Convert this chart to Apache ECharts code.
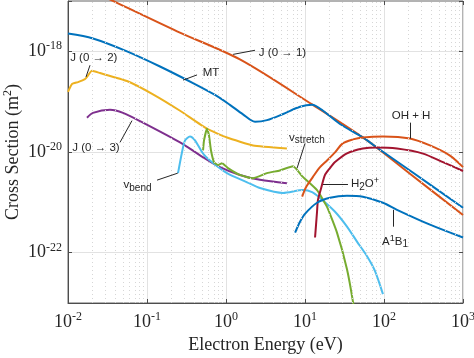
<!DOCTYPE html>
<html><head><meta charset="utf-8">
<script src="https://cdn.jsdelivr.net/npm/echarts@6/dist/echarts.min.js"></script>
<style>html,body{margin:0;padding:0;background:#fff}#c{width:474px;height:358px}</style>
</head><body><div id="c"></div>
<script>
// ---- axis ticks ----
const xDecades = [0.01, 0.1, 1, 10, 100, 1000];
const yLabelExps = [-22, -20, -18];

// ---- series data: [Electron energy (eV), cross section (m^2)] ----
const mtData = [[0.01,2.25e-18],[0.0207,1.8e-18],[0.0558,1.0e-18],[0.146,5.0e-19],[0.382,2.34e-19],[0.726,1.36e-19],[1.12,8.65e-20],[1.64,5.6e-20],[2.33,4.0e-20],[3.3,4.3e-20],[5.3,5.7e-20],[8.65,7.9e-20],[12.3,8.7e-20],[16.9,6.6e-20],[27.7,3.6e-20],[54,1.95e-20],[81,1.23e-20],[213,4.3e-21],[1000,7.8e-22]];
const j01Data = [[0.01,2.7e-17],[0.0394,9.6e-18],[0.24,2.5e-18],[1.5,6.9e-19],[12.3,8.8e-20],[61,1.7e-20],[213,3.7e-21],[1000,5.6e-22]];
const j02Data = [[0.01,1.56e-19],[0.01124,2.24e-19],[0.0134,2.45e-19],[0.0164,2.8e-19],[0.0174,3.1e-19],[0.0201,4.1e-19],[0.0254,3.7e-19],[0.0558,2.57e-19],[0.119,1.4e-19],[0.262,6.6e-20],[0.574,2.9e-20],[1.03,1.94e-20],[2.2,1.35e-20],[5.9,1.18e-20]];
const j03Data = [[0.0174,4.8e-20],[0.0207,6.0e-20],[0.034,6.9e-20],[0.0497,6.0e-20],[0.0889,3.83e-20],[0.262,1.55e-20],[0.469,8.6e-21],[0.84,5.0e-21],[1.5,3.5e-21],[2.69,2.8e-21],[5.9,2.4e-21]];
const bendData = [[0.247,3.8e-21],[0.277,9.8e-21],[0.303,1.7e-20],[0.35,2.04e-20],[0.405,1.7e-20],[0.512,9.3e-21],[0.627,6.8e-21],[1.03,3.8e-21],[1.85,2.5e-21],[2.69,1.92e-21],[5.27,1.53e-21],[9.4,1.75e-21],[12.3,1.6e-21],[15.5,1.22e-21],[24,6.5e-22],[34,3.3e-22],[45.5,1.66e-22],[61,8.5e-23],[77,4.3e-23],[97,1.5e-23]];
const stretchData = [[0.512,1.07e-20],[0.527,1.7e-20],[0.574,2.9e-20],[0.61,2.1e-20],[0.646,1.07e-20],[0.705,6.3e-21],[0.79,5.5e-21],[0.89,6.0e-21],[1.06,4.8e-21],[1.5,3.5e-21],[2.2,3.0e-21],[3.3,3.8e-21],[4.8,4.3e-21],[7.05,5.2e-21],[9.4,3.2e-21],[14.2,1.74e-21],[19,8.1e-22],[25.4,2.5e-22],[34,4.7e-23],[40.5,1.05e-23],[43,4.9e-24]];
const ohData = [[9.2,1.3e-21],[10.3,2.0e-21],[12.6,3.2e-21],[15.5,5.0e-21],[19,6.8e-21],[24,9.8e-21],[30,1.48e-20],[40.5,1.78e-20],[54,1.95e-20],[97,2.04e-20],[213,1.86e-20],[382,1.35e-20],[684,8.5e-21],[1000,5.0e-21]];
const h2oData = [[13.4,2.0e-22],[13.8,3.6e-22],[14.2,6.5e-22],[14.6,1.12e-21],[16,1.9e-21],[17.9,3.5e-21],[20.7,4.8e-21],[24,6.3e-21],[34,9.4e-21],[54,1.17e-20],[81,1.23e-20],[146,1.17e-20],[312,9.3e-21],[558,6.3e-21],[1000,4.2e-21]];
const abData = [[7.5,2.5e-22],[8.65,4.1e-22],[10,5.9e-22],[14.2,9.8e-22],[20.7,1.23e-21],[34,1.35e-21],[54,1.29e-21],[97,9.8e-22],[146,7.1e-22],[382,3.6e-22],[1000,2.0e-22]];

// ---- annotations: label text, label centre, leader line ends ----
const annotations = [
  {text:'J (0 → 1)', at:[5.19,9.55e-19], line:[[1.23,8.7e-19],[2.33,1.05e-18]]},
  {text:'MT', at:[0.646,3.69e-19], line:[[0.286,2.68e-19],[0.43,3.4e-19]]},
  {text:'J (0 → 2)', at:[0.0212,7.6e-19], line:[[0.0169,3.1e-19],[0.019,5.3e-19]]},
  {text:'J (0 → 3)', at:[0.0226,1.23e-20], line:[[0.0455,1.55e-20],[0.0646,4.2e-20]]},
  {text:'{b|v}{sub|bend}', at:[0.0759,2.2e-21], line:[[0.134,2.76e-21],[0.245,3.8e-21]]},
  {text:'{b|v}{sub|stretch}', at:[10.6,1.95e-20], line:[[10.0,1.48e-20],[7.93,4.75e-21]]},
  {text:'OH + H', at:[220,5.25e-20], line:[[213,3.83e-20],[213,1.85e-20]]},
  {text:'{b|H}{sub|2}{b|O}{sup|+}', at:[57.4,2.3e-21], line:[[16.9,2.3e-21],[35,2.3e-21]]},
  {text:'{b|A}{sup|1}{b|B}{sub|1}', at:[138,1.66e-22], line:[[130,7.1e-22],[130,3.28e-22]]}
];

const minorX = [];
for (let i = 0; i < xDecades.length - 1; i++) for (let k = 2; k <= 9; k++) minorX.push(xDecades[i] * k);

const serif = 'Liberation Serif';
const sans = 'Liberation Sans';
const axisCol = '#4d4d4d';
const powRich = {
  b: {fontFamily: serif, fontSize: 18, lineHeight: 22, color: '#262626'},
  s: {fontFamily: serif, fontSize: 12, lineHeight: 12, verticalAlign: 'top', color: '#262626'}
};
const annRich = {
  b: {fontFamily: sans, fontSize: 11.5, lineHeight: 16, color: '#262626'},
  sub: {fontFamily: sans, fontSize: 10, lineHeight: 6, verticalAlign: 'bottom', color: '#262626'},
  sup: {fontFamily: sans, fontSize: 9, lineHeight: 6, verticalAlign: 'top', color: '#262626'}
};

function lineSeries(name, data, color, smooth) {
  return {name, type: 'line', data, showSymbol: false, symbol: 'none', smooth: smooth,
    lineStyle: {color, width: 2}, itemStyle: {color}, z: 3, clip: true};
}

const series = [
  lineSeries('J01', j01Data, '#D95319', 0.3),
  lineSeries('MT', mtData, '#0072BD', 0.3),
  lineSeries('J02', j02Data, '#EDB120', 0.15),
  lineSeries('J03', j03Data, '#7E2F8E', 0.3),
  lineSeries('bend', bendData, '#4DBEEE', 0.25),
  lineSeries('stretch', stretchData, '#77AC30', 0.15),
  lineSeries('OHH', ohData, '#D95319', 0.3),
  lineSeries('H2O', h2oData, '#A2142F', 0.25),
  lineSeries('A1B1', abData, '#0072BD', 0.3),
  {
    name: 'grid', type: 'line', data: [], z: 1, silent: true,
    markLine: {silent: true, symbol: ['none','none'], animation: false,
      label: {show: false},
      lineStyle: {color: '#d6d6d6', width: 1, type: [1, 3]},
      data: minorX.map(v => ({xAxis: v}))}
  },
  {
    name: 'annotations', type: 'line', data: [], z: 4, silent: true,
    markLine: {silent: true, symbol: ['none','none'], animation: false,
      label: {show: false},
      lineStyle: {color: '#262626', width: 1, type: 'solid'},
      data: annotations.map(a => [{coord: a.line[0]}, {coord: a.line[1]}])},
    markPoint: {silent: true, animation: false, symbol: 'circle', symbolSize: 0,
      data: annotations.map(a => ({coord: a.at,
        label: {show: true, position: 'inside', formatter: a.text, rich: annRich,
          fontFamily: sans, fontSize: 11.5, color: '#262626'}}))}
  }
];

const chart = echarts.init(document.getElementById('c'), null, {renderer: 'canvas'});
chart.setOption({
  animation: false,
  backgroundColor: '#fff',
  grid: {left: 68, right: 11, top: 1, bottom: 55, outerBoundsMode: 'none', containLabel: false,
    show: true, borderColor: '#666', borderWidth: 1, backgroundColor: 'transparent'},
  xAxis: [{
    type: 'log', logBase: 10, min: 0.01, max: 1000,
    name: 'Electron Energy (eV)', nameLocation: 'middle', nameGap: 33,
    nameTextStyle: {fontFamily: serif, fontSize: 18, color: '#262626'},
    axisLine: {show: true, lineStyle: {color: axisCol}},
    axisTick: {show: true, inside: true, length: 4, lineStyle: {color: axisCol}},
    axisLabel: {margin: 8, formatter: v => '{b|10}{s|' + Math.round(Math.log10(v)) + '}', rich: powRich},
    splitLine: {show: true, lineStyle: {color: '#e2e2e2', width: 1}},
    minorTick: {show: false}, minorSplitLine: {show: false}
  }, {
    type: 'log', logBase: 10, min: 0.01, max: 1000, position: 'top',
    axisLine: {show: false}, axisLabel: {show: false}, splitLine: {show: false},
    axisTick: {show: true, inside: true, length: 4, lineStyle: {color: axisCol}}
  }],
  yAxis: [{
    type: 'log', logBase: 10, min: 1e-23, max: 1e-17,
    name: '{a|Cross Section (m}{s|2}{a|)}', nameLocation: 'middle', nameGap: 44,
    nameTextStyle: {rich: {
      a: {fontFamily: serif, fontSize: 18, lineHeight: 22, color: '#262626'},
      s: {fontFamily: serif, fontSize: 12, lineHeight: 12, verticalAlign: 'top', color: '#262626'}}},
    axisLine: {show: true, lineStyle: {color: axisCol}},
    axisTick: {show: false}, axisLabel: {show: false}, splitLine: {show: false}
  }, {
    type: 'value', min: -23, max: -17, splitNumber: 3, position: 'left',
    axisLine: {show: false},
    axisTick: {show: true, inside: true, length: 4, lineStyle: {color: axisCol}},
    axisLabel: {margin: 6, formatter: v => (yLabelExps.indexOf(v) >= 0 ? '{b|10}{s|' + v + '}' : ''), rich: powRich},
    splitLine: {show: true, showMinLine: false, showMaxLine: false, lineStyle: {color: '#e2e2e2', width: 1}}
  }, {
    type: 'value', min: -23, max: -17, splitNumber: 3, position: 'right',
    axisLine: {show: false}, axisLabel: {show: false}, splitLine: {show: false},
    axisTick: {show: true, inside: true, length: 4, lineStyle: {color: axisCol}}
  }],
  series: series
});
</script>
</body></html>
